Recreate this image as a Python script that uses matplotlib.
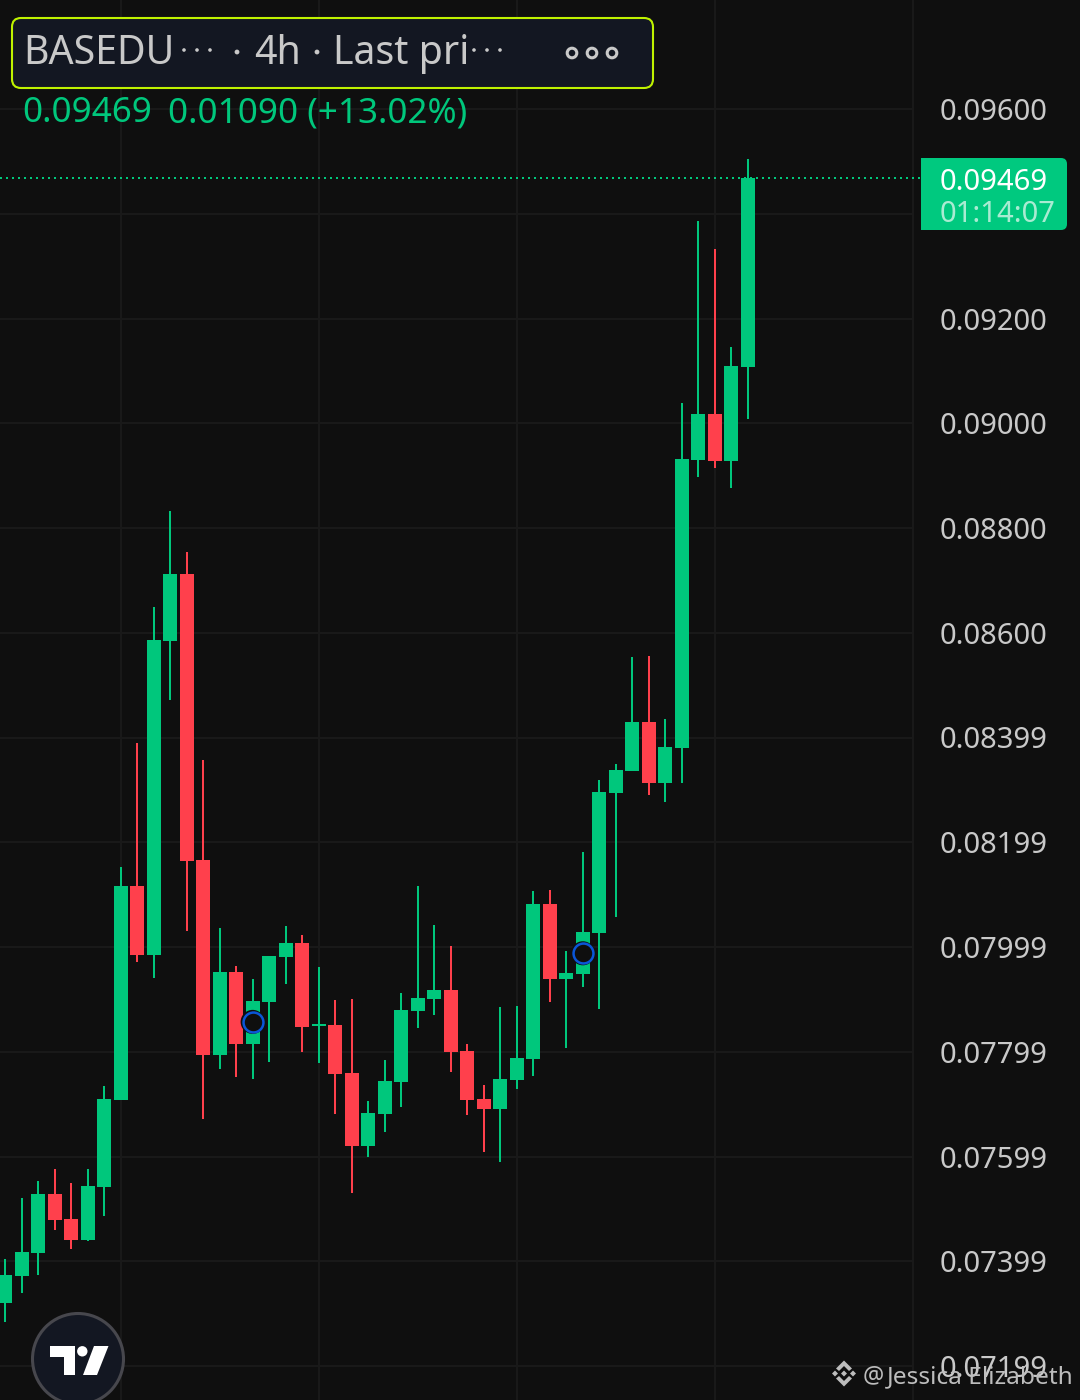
import matplotlib
matplotlib.use("Agg")
import matplotlib.pyplot as plt
from matplotlib.patches import FancyBboxPatch, Rectangle, Circle, Polygon
from matplotlib.transforms import Affine2D

plt.rcParams['font.family'] = ['Noto Sans', 'DejaVu Sans']

# ---------- data (prices x 1e-5) ----------
opens = [7320, 7372, 7416, 7528, 7481, 7441, 7542, 7708, 8116, 7985, 8584, 8712, 8166, 7794, 7952, 7815,
         7895, 7981, 8008, 7849, 7851, 7759, 7620, 7681, 7742, 7878, 7901, 7918, 7801, 7710, 7691, 7746,
         7786, 8082, 7939, 7948, 8027, 8294, 8336, 8430, 8313, 8380, 8930, 9018, 8928, 9107]
closes = [7374, 7418, 7528, 7479, 7441, 7544, 7710, 8116, 7985, 8586, 8712, 8164, 7794, 7952, 7815, 7897,
          7983, 8008, 7847, 7853, 7758, 7620, 7683, 7744, 7880, 7903, 7918, 7800, 7708, 7691, 7748, 7788,
          8082, 7939, 7950, 8029, 8296, 8338, 8430, 8313, 8382, 8932, 9018, 8928, 9109, 9469]
highs = [7404, 7521, 7553, 7576, 7549, 7576, 7735, 8153, 8390, 8649, 8832, 8754, 8357, 8036, 7964, 7939,
         7983, 8040, 8023, 7962, 7899, 7901, 7706, 7784, 7912, 8116, 8042, 8002, 7815, 7736, 7885, 7887,
         8107, 8109, 7992, 8181, 8319, 8349, 8554, 8556, 8435, 9039, 9386, 9333, 9146, 9504]
lows = [7284, 7339, 7374, 7460, 7423, 7439, 7486, 7708, 7971, 7941, 8472, 8030, 7672, 7767, 7752, 7748,
        7780, 7929, 7800, 7779, 7681, 7530, 7599, 7647, 7695, 7845, 7870, 7761, 7679, 7609, 7590, 7729,
        7754, 7895, 7807, 7924, 7882, 8057, 8336, 8290, 8277, 8313, 8897, 8915, 8876, 9008]
scale = 1e-5

grid_prices = [0.09600, 0.09400, 0.09200, 0.09000, 0.08800, 0.08600, 0.08400, 0.08200, 0.08000,
               0.07800, 0.07600, 0.07400, 0.07200]
tick_labels = ["0.09600", "", "0.09200", "0.09000", "0.08800", "0.08600", "0.08399", "0.08199", "0.07999",
               "0.07799", "0.07599", "0.07399", "0.07199"]
grid_candles = [7, 19, 31, 43, 55]
marker_candles = [15, 35]
marker_prices = [0.07857, 0.07988]
last_price = 0.09469

# ---------- style ----------
BG = '#0F0F0F'
GRID = '#191919'
GREEN = '#00C77C'
RED = '#FF404C'
TEXT = '#C9C9C9'
PANEL = '#131722'
W, H = 1080, 1400

fig = plt.figure(figsize=(W / 100, H / 100), dpi=100, facecolor=BG)
ax = fig.add_axes([0, 0, 1, 1], facecolor=BG)
ax.set_axis_off()

# axis scales: candle step 16.51 px with first candle centred at x=5; 52375 px per price unit, 0.096 at y=109
STEP = 16.51
ax.set_xlim(-5 / STEP, (W - 5) / STEP)
ax.set_ylim(0.096 - (H - 109) / 52375, 0.096 + 109 / 52375)

# pixel-space transform for interface furniture
pix = Affine2D().scale(1 / W, -1 / H).translate(0, 1) + fig.transFigure


def ptext(x, y, s, **kw):
    kw.setdefault('va', 'center')
    kw.setdefault('ha', 'left')
    return ax.text(x, y, s, transform=pix, clip_on=False, **kw)


# grid
ax.hlines(grid_prices, ax.get_xlim()[0], grid_candles[-1], color=GRID, lw=1.5, zorder=1)
ax.vlines(grid_candles, *ax.get_ylim(), color=GRID, lw=1.5, zorder=1)

# candles
for i, (o, c, h, l) in enumerate(zip(opens, closes, highs, lows)):
    col = GREEN if c >= o else RED
    ax.vlines(i, l * scale, h * scale, color=col, lw=1.44, zorder=3)
    ax.bar(i, abs(c - o) * scale, bottom=min(o, c) * scale, width=14 / STEP, color=col, lw=0, zorder=4)

# event markers
ax.scatter(marker_candles, marker_prices, s=300, facecolor=BG, edgecolor='none', zorder=5)
ax.scatter(marker_candles, marker_prices, s=205, facecolor=BG, edgecolor='#0A56D8', linewidth=1.8, zorder=6)

# last price line
ax.plot([ax.get_xlim()[0], grid_candles[-1] + 0.5], [last_price, last_price], color=GREEN, lw=1.44,
        dashes=(1, 2), dash_capstyle='butt', zorder=5)

# price labels (placed through the price scale, nudged to the text's visual centre)
for p, lab in zip(grid_prices, tick_labels):
    if lab:
        ax.text(939.5 / STEP - 5 / STEP, p - 3.5 / 52375, lab, color=TEXT, fontsize=21, va='center', ha='left', zorder=7)

# last price tag
ax.add_patch(FancyBboxPatch((925, 162), 138, 64, boxstyle='round,pad=4,rounding_size=6', transform=pix,
                            fc='#00C97F', ec='none', zorder=8, clip_on=False))
ax.add_patch(Rectangle((921, 158), 30, 72, transform=pix, fc='#00C97F', ec='none', zorder=8, clip_on=False))
ptext(939.5, 182.5, "0.09469", color='white', fontsize=21, zorder=9)
ptext(939.5, 214.5, "01:14:07", color='#A9EBD2', fontsize=21, zorder=9)

# legend panel
ax.add_patch(FancyBboxPatch((20, 26), 625, 54, boxstyle='round,pad=8,rounding_size=9', transform=pix,
                            fc=PANEL, ec='#BFF200', lw=1.5, zorder=8, clip_on=False))
LEG = dict(color=TEXT, fontsize=28.3, zorder=9)
ptext(23, 54.5, "BASEDU", **LEG)
ptext(254, 54.5, "4h", **LEG)
ptext(333, 54.5, "Last pri", **LEG)
for cx, cy, r in [(184, 50, 1.8), (197, 50, 1.8), (210, 50, 1.8), (237, 52, 2.4), (317, 52, 2.4),
                  (474, 50, 1.8), (487, 50, 1.8), (500, 50, 1.8)]:
    ax.add_patch(Circle((cx, cy), r, transform=pix, fc=TEXT, ec='none', zorder=9, clip_on=False))
for cx in (572, 592, 612):
    ax.add_patch(Circle((cx, 53), 4.8, transform=pix, fc='none', ec=TEXT, lw=2.2, zorder=9, clip_on=False))

# status row
ptext(22, 113.5, "0.09469", color=GREEN, fontsize=25.2, zorder=9)
ptext(168, 113.5, "0.01090 (+13.02%)", color=GREEN, fontsize=25.2, zorder=9)

# TradingView badge
ax.add_patch(Circle((78, 1359), 45.5, transform=pix, fc=PANEL, ec='#47474D', lw=2.2, zorder=8, clip_on=False))
ax.add_patch(Polygon([(50, 1346), (75, 1346), (75, 1375), (63.5, 1375), (63.5, 1357), (50, 1357)], transform=pix,
                     fc='white', ec='none', zorder=9, clip_on=False))
ax.add_patch(Polygon([(94, 1346), (108.5, 1346), (97, 1375), (83, 1375)], transform=pix,
                     fc='white', ec='none', zorder=9, clip_on=False))
ax.add_patch(Circle((82.3, 1351.3), 5.2, transform=pix, fc='white', ec='none', zorder=9, clip_on=False))

# watermark
WM = '#BDBDBD'
wm_polys = [
    [(844, 1370.5), (847, 1373.5), (844, 1376.5), (841, 1373.5)],
    [(835, 1370.5), (838, 1373.5), (835, 1376.5), (832, 1373.5)],
    [(853, 1370.5), (856, 1373.5), (853, 1376.5), (850, 1373.5)],
    [(844, 1360.5), (852, 1368.5), (849, 1371), (844, 1366), (839, 1371), (836, 1368.5)],
    [(844, 1386.5), (852, 1378.5), (849, 1376), (844, 1381), (839, 1376), (836, 1378.5)],
]
for poly in wm_polys:
    ax.add_patch(Polygon(poly, transform=pix, fc=WM, ec='none', zorder=10, clip_on=False))
ptext(863, 1376.5, "@", color=WM, fontsize=17, zorder=10)
ptext(887, 1377, "Jessica Elizabeth", color=WM, fontsize=17.6, zorder=10)

fig.savefig("out.png", dpi=100, facecolor=BG)
